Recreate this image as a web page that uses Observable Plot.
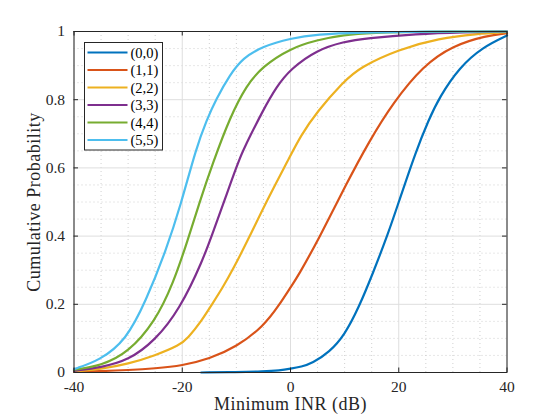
<!DOCTYPE html>
<html>
<head>
<meta charset="utf-8">
<script src="https://cdn.jsdelivr.net/npm/d3@7"></script>
<script src="https://cdn.jsdelivr.net/npm/@observablehq/plot@0.6"></script>
<style>
  html, body { margin: 0; padding: 0; background: #fff; }
  #wrap { position: relative; width: 560px; height: 420px; }
  #legend { position: absolute; left: 84px; top: 42px; }
  #wrap svg, #wrap svg text { font-family: "Liberation Serif", "Times New Roman", serif !important; }
</style>
</head>
<body>
<div id="wrap"></div>
<script>
// ---- data ----
const seriesNames = ["(0,0)", "(1,1)", "(2,2)", "(3,3)", "(4,4)", "(5,5)"];
const seriesColors = ["#0072BD", "#D95319", "#EDB120", "#7E2F8E", "#77AC30", "#4DBEEE"];

const x00 = [-16.5, -10, -5, -2, 0, 2, 4, 7.2, 10, 12.6, 15.2, 18.1, 20, 23.2, 25.5, 27.5, 31.2, 35.5, 40];
const y00 = [0, 0.001, 0.003, 0.006, 0.011, 0.017, 0.027, 0.06, 0.11, 0.19, 0.29, 0.41, 0.5, 0.65, 0.74, 0.807, 0.895, 0.954, 0.988];

const x11 = [-40, -35, -30, -25, -20, -15, -10, -5, -2, 0, 1.3, 5.4, 10.3, 14.6, 18.9, 24.5, 30, 36.2, 40];
const y11 = [0.002, 0.004, 0.007, 0.012, 0.02, 0.04, 0.075, 0.135, 0.2, 0.25, 0.28, 0.397, 0.553, 0.68, 0.79, 0.9, 0.959, 0.988, 0.995];

const x22 = [-40, -35, -30, -25, -20.5, -19, -16.5, -14.5, -12.5, -10.7, -7.5, -4.5, -0.2, 1.8, 4.9, 9.8, 12.8, 20, 27.5, 34.3, 40];
const y22 = [0.003, 0.01, 0.025, 0.05, 0.08, 0.1, 0.15, 0.2, 0.25, 0.3, 0.4, 0.5, 0.63, 0.692, 0.765, 0.853, 0.895, 0.948, 0.98, 0.993, 0.998];

const x33 = [-40, -35, -30, -25, -20.5, -16.2, -14, -12.2, -9.4, -7.5, -5.2, -2.6, 0, 4.9, 9.8, 14, 23.2, 32, 40];
const y33 = [0.005, 0.015, 0.035, 0.094, 0.185, 0.328, 0.426, 0.504, 0.631, 0.692, 0.765, 0.838, 0.89, 0.946, 0.97, 0.98, 0.993, 0.998, 1];

const x44 = [-40, -35, -30, -25, -21.7, -19, -16.8, -14.4, -11.2, -8.1, -5.2, 0, 4.9, 9.8, 15, 25, 40];
const y44 = [0.008, 0.02, 0.058, 0.15, 0.26, 0.387, 0.5, 0.612, 0.748, 0.843, 0.897, 0.951, 0.975, 0.99, 0.996, 1, 1];

const x55 = [-40, -35.3, -30.4, -26.7, -23, -20.3, -17.4, -15.5, -13.8, -11.2, -8.8, -5.2, 0, 4.9, 13, 25, 40];
const y55 = [0.01, 0.035, 0.094, 0.21, 0.358, 0.49, 0.66, 0.74, 0.8, 0.873, 0.922, 0.956, 0.98, 0.992, 0.997, 1, 1];

const xMajor = [-40, -20, 0, 20, 40];
const xMinor = [-35, -30, -25, -15, -10, -5, 5, 10, 15, 25, 30, 35];
const yMajor = [0, 0.2, 0.4, 0.6, 0.8, 1];
const yMinor = [0.05, 0.1, 0.15, 0.25, 0.3, 0.35, 0.45, 0.5, 0.55, 0.65, 0.7, 0.75, 0.85, 0.9, 0.95];

const xLabel = "Minimum INR (dB)";
const yLabel = "Cumulative Probability";

// ---- build table ----
const xs = [x00, x11, x22, x33, x44, x55];
const ys = [y00, y11, y22, y33, y44, y55];
const rows = seriesNames.flatMap((name, i) => xs[i].map((x, j) => ({series: name, x, y: ys[i][j]})));

const W = 560, H = 420;
const mL = 73.5, mR = 53.5, mT = 31, mB = 48;
const innerW = W - mL - mR, innerH = H - mT - mB;
const tickLen = 4.5;
const axisColor = "#262626";

const chart = Plot.plot({
  width: W, height: H,
  marginLeft: mL, marginRight: mR, marginTop: mT, marginBottom: mB,
  style: {fontSize: "15.5px", background: "#fff", color: axisColor},
  x: {domain: [-40, 40]},
  y: {domain: [0, 1]},
  color: {domain: seriesNames, range: seriesColors},
  marks: [
    Plot.ruleX(xMinor, {stroke: "#c4c4c4", strokeWidth: 0.8, strokeDasharray: "1,3"}),
    Plot.ruleY(yMinor, {stroke: "#c4c4c4", strokeWidth: 0.8, strokeDasharray: "1,3"}),
    Plot.ruleX(xMajor, {stroke: "#dedede", strokeWidth: 1}),
    Plot.ruleY(yMajor, {stroke: "#dedede", strokeWidth: 1}),
    Plot.line(rows, {x: "x", y: "y", z: "series", stroke: "series", strokeWidth: 2.2, curve: "basis"}),
    Plot.frame({stroke: axisColor, strokeWidth: 1}),
    Plot.tickX(xMajor, {stroke: axisColor, insetTop: innerH - tickLen}),
    Plot.tickX(xMajor, {stroke: axisColor, insetBottom: innerH - tickLen}),
    Plot.tickY(yMajor, {stroke: axisColor, insetRight: innerW - tickLen}),
    Plot.tickY(yMajor, {stroke: axisColor, insetLeft: innerW - tickLen}),
    Plot.axisX(xMajor, {anchor: "bottom", tickSize: 0, tickPadding: 8, label: null, tickFormat: d => String(d), fontSize: 15.5}),
    Plot.axisY(yMajor, {anchor: "left", tickSize: 0, tickPadding: 9, label: null, tickFormat: d => String(d), fontSize: 15.5}),
    Plot.text([xLabel], {text: d => d, frameAnchor: "bottom", textAnchor: "middle", dy: 37, fontSize: 18, fill: axisColor}),
    Plot.text([yLabel], {text: d => d, frameAnchor: "left", textAnchor: "middle", dx: -40, rotate: -90, fontSize: 18, fill: axisColor})
  ]
});

const wrap = document.getElementById("wrap");
wrap.appendChild(chart);
d3.select(chart).selectAll("text").filter(function () { return this.textContent === xLabel || this.textContent === yLabel; })
  .style("letter-spacing", "0.5px");

// ---- legend ----
const lg = d3.select(wrap).append("svg")
  .attr("id", "legend")
  .attr("width", 80).attr("height", 110);
lg.append("rect").attr("x", 0.5).attr("y", 0.5).attr("width", 78).attr("height", 107.5)
  .attr("fill", "#fff").attr("stroke", axisColor).attr("stroke-width", 1);
const items = lg.selectAll("g.item").data(seriesNames).join("g")
  .attr("class", "item")
  .attr("transform", (d, i) => `translate(0,${10.5 + i * 17.5})`);
items.append("line").attr("x1", 3.5).attr("x2", 43.5).attr("y1", 0).attr("y2", 0)
  .attr("stroke", (d, i) => seriesColors[i]).attr("stroke-width", 2.2);
items.append("text").attr("x", 46.5).attr("y", 0).attr("dy", "0.35em")
  .attr("font-size", 14.5).attr("fill", "#000").text(d => d);
</script>
</body>
</html>
